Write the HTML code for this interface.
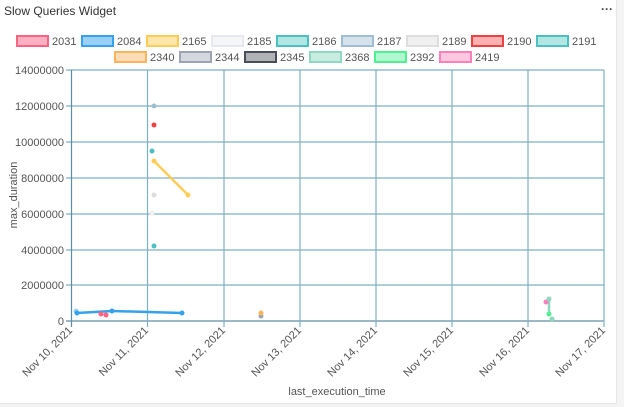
<!DOCTYPE html>
<html><head><meta charset="utf-8"><style>
body{margin:0;background:#f4f4f4;width:624px;height:407px;overflow:hidden;font-family:"Liberation Sans",sans-serif}
.card{position:absolute;left:0;top:0;width:616px;height:403px;background:#fff;border-right:1px solid #e6e6e6;border-bottom:1px solid #e6e6e6}
</style></head><body>
<div class="card"></div>
<svg width="624" height="407" style="position:absolute;left:0;top:0" font-family="Liberation Sans, sans-serif">
<text x="4" y="15" font-size="12" fill="#333">Slow Queries Widget</text>
<text x="601" y="13" font-size="12" fill="#444" font-weight="bold">···</text>
<g font-size="11" fill="#555">
<rect x="17" y="36" width="31" height="10" fill="#ffb1c1" stroke="#ff6384" stroke-width="2"/><text x="52" y="45">2031</text>
<rect x="82" y="36" width="31" height="10" fill="#9ad0f5" stroke="#36a2eb" stroke-width="2"/><text x="117" y="45">2084</text>
<rect x="147" y="36" width="31" height="10" fill="#ffe6aa" stroke="#ffcd56" stroke-width="2"/><text x="182" y="45">2165</text>
<rect x="212" y="36" width="31" height="10" fill="#f5f6f8" stroke="#e6e8ee" stroke-width="2"/><text x="247" y="45">2185</text>
<rect x="277" y="36" width="31" height="10" fill="#b2e6e3" stroke="#4bc0c0" stroke-width="2"/><text x="312" y="45">2186</text>
<rect x="342" y="36" width="31" height="10" fill="#d6e2ea" stroke="#9ebfd3" stroke-width="2"/><text x="377" y="45">2187</text>
<rect x="407" y="36" width="31" height="10" fill="#f0f0f0" stroke="#dedede" stroke-width="2"/><text x="442" y="45">2189</text>
<rect x="472" y="36" width="31" height="10" fill="#ffb0b0" stroke="#f04040" stroke-width="2"/><text x="507" y="45">2190</text>
<rect x="537" y="36" width="31" height="10" fill="#b2e6e3" stroke="#4bc0c0" stroke-width="2"/><text x="572" y="45">2191</text>
<rect x="115" y="52" width="31" height="10" fill="#ffdcb8" stroke="#ffb45c" stroke-width="2"/><text x="150" y="61">2340</text>
<rect x="180" y="52" width="31" height="10" fill="#d4d7de" stroke="#9ea4b2" stroke-width="2"/><text x="215" y="61">2344</text>
<rect x="245" y="52" width="31" height="10" fill="#b0b2b6" stroke="#4a4e58" stroke-width="2"/><text x="280" y="61">2345</text>
<rect x="310" y="52" width="31" height="10" fill="#c8ede0" stroke="#8fd8c0" stroke-width="2"/><text x="345" y="61">2368</text>
<rect x="375" y="52" width="31" height="10" fill="#b0f8d0" stroke="#50f090" stroke-width="2"/><text x="410" y="61">2392</text>
<rect x="440" y="52" width="31" height="10" fill="#ffc8e0" stroke="#ff80b8" stroke-width="2"/><text x="475" y="61">2419</text>
</g>
<g stroke="#7fb0c4" stroke-width="1.2">
<line x1="66" y1="70" x2="604" y2="70"/><line x1="66" y1="106" x2="604" y2="106"/>
<line x1="66" y1="142" x2="604" y2="142"/><line x1="66" y1="178" x2="604" y2="178"/>
<line x1="66" y1="214" x2="604" y2="214"/><line x1="66" y1="250" x2="604" y2="250"/>
<line x1="66" y1="285" x2="604" y2="285"/><line x1="66" y1="321" x2="604" y2="321" stroke="#5d8ea4"/>
<line x1="71.5" y1="70" x2="71.5" y2="327" stroke="#5d8ea4"/><line x1="147.5" y1="70" x2="147.5" y2="327"/>
<line x1="224" y1="70" x2="224" y2="327"/><line x1="300" y1="70" x2="300" y2="327"/>
<line x1="376" y1="70" x2="376" y2="327"/><line x1="452" y1="70" x2="452" y2="327"/>
<line x1="528" y1="70" x2="528" y2="327"/><line x1="604" y1="70" x2="604" y2="327"/>
</g>
<g font-size="11" fill="#555" text-anchor="end">
<text x="64" y="74">14000000</text><text x="64" y="110">12000000</text><text x="64" y="146">10000000</text>
<text x="64" y="182">8000000</text><text x="64" y="218">6000000</text><text x="64" y="254">4000000</text>
<text x="64" y="289">2000000</text><text x="64" y="325">0</text>
<text transform="translate(73,331) rotate(-45)">Nov 10, 2021</text>
<text transform="translate(149,331) rotate(-45)">Nov 11, 2021</text>
<text transform="translate(226,331) rotate(-45)">Nov 12, 2021</text>
<text transform="translate(302,331) rotate(-45)">Nov 13, 2021</text>
<text transform="translate(378,331) rotate(-45)">Nov 14, 2021</text>
<text transform="translate(454,331) rotate(-45)">Nov 15, 2021</text>
<text transform="translate(530,331) rotate(-45)">Nov 16, 2021</text>
<text transform="translate(606,331) rotate(-45)">Nov 17, 2021</text>
</g>
<text x="337" y="395" font-size="11" fill="#555" text-anchor="middle">last_execution_time</text>
<text transform="translate(17,195) rotate(-90)" font-size="11" fill="#555" text-anchor="middle">max_duration</text>
<polyline points="77,313 112,311 182,313" fill="none" stroke="#36a2eb" stroke-width="2.5"/>
<circle cx="76" cy="311" r="2.5" fill="#9ad0f5"/><circle cx="77" cy="313" r="2.5" fill="#36a2eb"/>
<circle cx="112" cy="311" r="2.5" fill="#36a2eb"/><circle cx="182" cy="313" r="2.5" fill="#36a2eb"/>
<circle cx="101" cy="314" r="2.5" fill="#ff6384"/><circle cx="106" cy="315" r="2.5" fill="#ff6384"/>
<line x1="154" y1="161" x2="188" y2="195" stroke="#ffcd56" stroke-width="2.5"/>
<circle cx="154" cy="161" r="2.5" fill="#ffcd56"/><circle cx="188" cy="195" r="2.5" fill="#ffcd56"/>
<circle cx="154" cy="106" r="2.5" fill="#9ebfd3"/><circle cx="154" cy="125" r="2.5" fill="#f04040"/>
<circle cx="152" cy="151" r="2.5" fill="#4bc0c0"/><circle cx="154" cy="195" r="2.5" fill="#dedede"/>
<circle cx="152" cy="213" r="2.5" fill="#eef0f4"/><circle cx="154" cy="246" r="2.5" fill="#4bc0c0"/>
<circle cx="261" cy="316" r="2.5" fill="#9ea4b2"/><circle cx="261" cy="313" r="2.5" fill="#ffb45c"/>
<line x1="549" y1="299" x2="549" y2="314" stroke="#8fd8c0" stroke-width="2.5"/>
<circle cx="546" cy="302" r="2.5" fill="#ff80b8"/><circle cx="549" cy="299" r="2.5" fill="#8fd8c0"/>
<circle cx="549" cy="314" r="2.5" fill="#50f090"/><circle cx="552" cy="319" r="2.5" fill="#8fd8c0"/>
</svg>
</body></html>
